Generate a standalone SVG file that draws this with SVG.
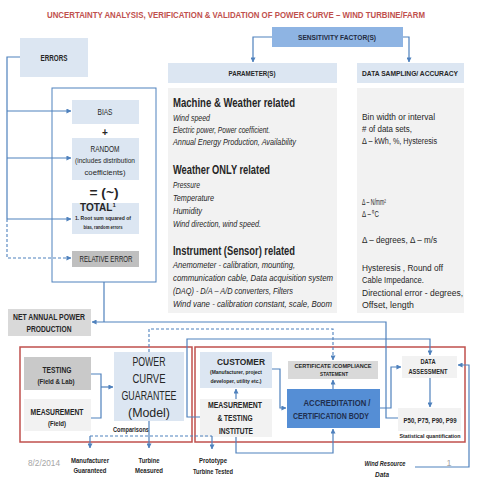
<svg xmlns="http://www.w3.org/2000/svg" width="480" height="480" viewBox="0 0 480 480">
<style>
text{font-family:"Liberation Sans",Arial,sans-serif;fill:#262626}
.b{font-weight:bold}
.i{font-style:italic}
.c{text-anchor:middle}
.ln{fill:none;stroke:#4f81bd;stroke-width:1.2}
.ds{fill:none;stroke:#4f81bd;stroke-width:1.1;stroke-dasharray:3,2}
.red{fill:none;stroke:#c0504d;stroke-width:1.5}
.lb{fill:#dce6f2}
.lg{fill:#f2f2f2}
.g{fill:#d9d9d9}
</style>
<defs>
<marker id="a" viewBox="0 0 6 6" refX="5.5" refY="3" markerWidth="5" markerHeight="5" markerUnits="userSpaceOnUse" orient="auto"><path d="M0,0L6,3L0,6z" fill="#4f81bd"/></marker>
</defs>
<rect width="480" height="480" fill="#fff"/>
<text x="236" y="18" class="b c" font-size="9" style="fill:#c0504d" textLength="378" lengthAdjust="spacingAndGlyphs">UNCERTAINTY ANALYSIS, VERIFICATION &amp; VALIDATION OF POWER CURVE – WIND TURBINE/FARM</text>

<g id="sensitivity"><rect x="272" y="27" width="131" height="20" fill="#8eb4e3"/><text x="337" y="40" class="b c" font-size="8" style="fill:#1f2a3d" textLength="78" lengthAdjust="spacingAndGlyphs">SENSITIVITY FACTOR(S)</text></g>
<g id="parameters"><rect x="168" y="63" width="169" height="20" class="lb"/><text x="252" y="76" class="b c" font-size="8" textLength="47" lengthAdjust="spacingAndGlyphs">PARAMETER(S)</text></g>
<g id="datasampling"><rect x="357" y="63" width="107" height="20" class="lb"/><text x="410" y="76" class="b c" font-size="8" textLength="96" lengthAdjust="spacingAndGlyphs">DATA SAMPLING/ ACCURACY</text></g>

<g id="param-details"><rect x="168" y="88" width="169" height="225" class="lg"/>
<text x="173" y="107" class="b" font-size="12" textLength="122" lengthAdjust="spacingAndGlyphs">Machine &amp; Weather related</text>
<g font-size="8.5" class="i">
<text x="173" y="121" textLength="37" lengthAdjust="spacingAndGlyphs">Wind speed</text>
<text x="173" y="133" textLength="97" lengthAdjust="spacingAndGlyphs">Electric power, Power coefficient.</text>
<text x="173" y="145" textLength="123" lengthAdjust="spacingAndGlyphs">Annual Energy Production, Availability</text>
</g>
<text x="173" y="174" class="b" font-size="12" textLength="97" lengthAdjust="spacingAndGlyphs">Weather ONLY related</text>
<g font-size="8.5" class="i">
<text x="173" y="188" textLength="27" lengthAdjust="spacingAndGlyphs">Pressure</text>
<text x="173" y="201" textLength="41" lengthAdjust="spacingAndGlyphs">Temperature</text>
<text x="173" y="214" textLength="29" lengthAdjust="spacingAndGlyphs">Humidity</text>
<text x="173" y="227" textLength="88" lengthAdjust="spacingAndGlyphs">Wind direction, wind speed.</text>
</g>
<text x="173" y="255" class="b" font-size="12" textLength="122" lengthAdjust="spacingAndGlyphs">Instrument (Sensor) related</text>
<g font-size="8.5" class="i">
<text x="173" y="268" textLength="122" lengthAdjust="spacingAndGlyphs">Anemometer -  calibration, mounting,</text>
<text x="173" y="281" textLength="160" lengthAdjust="spacingAndGlyphs">communication cable, Data acquisition system</text>
<text x="173" y="294" textLength="120" lengthAdjust="spacingAndGlyphs">(DAQ)  - D/A – A/D converters, Filters</text>
<text x="173" y="307" textLength="159" lengthAdjust="spacingAndGlyphs">Wind vane -  calibration constant, scale, Boom</text>
</g></g>
<g id="sampling-details"><rect x="357" y="88" width="107" height="225" class="lg"/>
<g font-size="8.5" style="fill:#404040">
<text x="362" y="120" textLength="73" lengthAdjust="spacingAndGlyphs">Bin width or interval</text>
<text x="362" y="132" textLength="50" lengthAdjust="spacingAndGlyphs"># of data sets,</text>
<text x="362" y="144" textLength="75" lengthAdjust="spacingAndGlyphs">Δ – kWh, %,  Hysteresis</text>
<text x="362" y="205" textLength="24" lengthAdjust="spacingAndGlyphs">Δ – N/mm²</text>
<text x="362" y="217" textLength="17" lengthAdjust="spacingAndGlyphs">Δ – ⁰C</text>
<text x="362" y="243" textLength="75" lengthAdjust="spacingAndGlyphs">Δ – degrees, Δ – m/s</text>
<text x="362" y="271" textLength="81" lengthAdjust="spacingAndGlyphs">Hysteresis , Round off</text>
<text x="362" y="283" textLength="62" lengthAdjust="spacingAndGlyphs">Cable Impedance.</text>
<text x="362" y="296" textLength="101" lengthAdjust="spacingAndGlyphs">Directional error - degrees,</text>
<text x="362" y="308" textLength="52" lengthAdjust="spacingAndGlyphs">Offset, length</text>
</g></g>

<g id="errors"><rect x="20" y="38" width="68" height="39" class="lb"/><text x="54" y="61" class="b c" font-size="9" textLength="27" lengthAdjust="spacingAndGlyphs">ERRORS</text></g>
<g id="error-group"><rect x="52" y="88" width="104" height="194" fill="none" stroke="#4f81bd" stroke-width="1"/>
<text x="105" y="136" class="b c" font-size="10">+</text>
<text x="104" y="197" class="b c" font-size="13" textLength="29" lengthAdjust="spacingAndGlyphs">= (~)</text></g>
<g id="bias"><rect x="72" y="100" width="67" height="24" class="lb"/><text x="105" y="115" class="c" font-size="9" textLength="15" lengthAdjust="spacingAndGlyphs">BIAS</text></g>
<g id="random"><rect x="72" y="138" width="67" height="42" class="lb"/>
<text x="105" y="152" class="c" font-size="9" textLength="29" lengthAdjust="spacingAndGlyphs">RANDOM</text>
<text x="105" y="163" class="c" font-size="7.5" textLength="60" lengthAdjust="spacingAndGlyphs">(includes distribution</text>
<text x="105" y="175" class="c" font-size="7.5" textLength="41" lengthAdjust="spacingAndGlyphs">coefficients)</text></g>
<g id="total"><rect x="72" y="203" width="67" height="31" class="lb"/>
<text x="80" y="211" class="b" font-size="10">TOTAL<tspan font-size="6" dy="-4">1</tspan></text>
<text x="103" y="220" class="b c" font-size="6" textLength="56" lengthAdjust="spacingAndGlyphs">1. Root sum squared of</text>
<text x="103" y="229" class="b c" font-size="6" textLength="39" lengthAdjust="spacingAndGlyphs">bias, random errors</text></g>
<g id="relative-error"><rect x="72" y="251" width="67" height="16" fill="#bfbfbf"/><text x="106" y="262" class="c" font-size="8.5" textLength="53" lengthAdjust="spacingAndGlyphs">RELATIVE ERROR</text></g>

<g id="net"><rect x="8" y="309" width="83" height="27" class="g"/>
<text x="49" y="320" class="b c" font-size="8.5" textLength="72" lengthAdjust="spacingAndGlyphs">NET ANNUAL POWER</text>
<text x="49" y="332" class="b c" font-size="8.5" textLength="45" lengthAdjust="spacingAndGlyphs">PRODUCTION</text></g>

<rect x="20" y="347" width="172" height="95" class="red"/>
<rect x="195" y="347" width="270" height="95" class="red"/>

<g id="testing"><rect x="24" y="357" width="67" height="33" fill="#c9c9c9"/>
<text x="57" y="373" class="b c" font-size="8.5" textLength="29" lengthAdjust="spacingAndGlyphs">TESTING</text>
<text x="56" y="384" class="b c" font-size="6.5" textLength="37" lengthAdjust="spacingAndGlyphs">(Field &amp; Lab)</text></g>
<g id="measurement"><rect x="24" y="399" width="67" height="32" class="lg"/>
<text x="57" y="415" class="b c" font-size="8.5" textLength="53" lengthAdjust="spacingAndGlyphs">MEASUREMENT</text>
<text x="57" y="426" class="b c" font-size="6.5" textLength="18" lengthAdjust="spacingAndGlyphs">(Field)</text></g>
<g id="power-curve"><rect x="114" y="352" width="70" height="69" class="lb"/>
<text x="149" y="366" class="c" font-size="13" textLength="33" lengthAdjust="spacingAndGlyphs">POWER</text>
<text x="149" y="383" class="c" font-size="13" textLength="33" lengthAdjust="spacingAndGlyphs">CURVE</text>
<text x="149" y="400" class="c" font-size="13" textLength="55" lengthAdjust="spacingAndGlyphs">GUARANTEE</text>
<text x="149" y="417" class="c" font-size="13" textLength="42" lengthAdjust="spacingAndGlyphs">(Model)</text></g>
<text x="131" y="432" class="b c" font-size="6.5" textLength="36" lengthAdjust="spacingAndGlyphs">Comparisons</text>

<g id="customer"><rect x="200" y="352" width="72" height="36" class="lb"/>
<text x="241" y="365" class="b c" font-size="9" textLength="48" lengthAdjust="spacingAndGlyphs">CUSTOMER</text>
<text x="236" y="374" class="b c" font-size="6" textLength="52" lengthAdjust="spacingAndGlyphs">(Manufacturer, project</text>
<text x="236" y="383" class="b c" font-size="6" textLength="51" lengthAdjust="spacingAndGlyphs">developer, utility  etc.)</text></g>
<g id="institute"><rect x="200" y="399" width="72" height="38" class="lg"/>
<text x="235" y="408" class="b c" font-size="9.5" textLength="54" lengthAdjust="spacingAndGlyphs">MEASUREMENT</text>
<text x="235" y="421" class="b c" font-size="9.5" textLength="35" lengthAdjust="spacingAndGlyphs">&amp; TESTING</text>
<text x="236" y="434" class="b c" font-size="9.5" textLength="34" lengthAdjust="spacingAndGlyphs">INSTITUTE</text></g>
<g id="certificate"><rect x="288" y="361" width="90" height="18" class="g"/>
<text x="333" y="368" class="b c" font-size="6" textLength="77" lengthAdjust="spacingAndGlyphs">CERTIFICATE /COMPLIANCE</text>
<text x="334" y="376" class="b c" font-size="6" textLength="28" lengthAdjust="spacingAndGlyphs">STATEMENT</text></g>
<g id="accreditation"><rect x="287" y="389" width="93" height="39" fill="#558ed5"/>
<text x="337" y="406" class="b c" font-size="9.5" style="fill:#1f2f4f" textLength="67" lengthAdjust="spacingAndGlyphs">ACCREDITATION /</text>
<text x="331" y="419" class="b c" font-size="9.5" style="fill:#1f2f4f" textLength="76" lengthAdjust="spacingAndGlyphs">CERTIFICATION BODY</text></g>
<g id="data-assessment"><rect x="402" y="356" width="55" height="22" class="lg"/>
<text x="428" y="364" class="b c" font-size="7" textLength="15" lengthAdjust="spacingAndGlyphs">DATA</text>
<text x="428" y="374" class="b c" font-size="7" textLength="39" lengthAdjust="spacingAndGlyphs">ASSESSMENT</text></g>
<g id="p-values"><rect x="398" y="408" width="63" height="23" class="lg"/>
<text x="430" y="423" class="b c" font-size="7" textLength="53" lengthAdjust="spacingAndGlyphs">P50, P75, P90, P99</text></g>
<text x="430" y="438" class="b c" font-size="6" textLength="61" lengthAdjust="spacingAndGlyphs">Statistical quantification</text>

<text x="90" y="463" class="b c" font-size="7" textLength="38" lengthAdjust="spacingAndGlyphs">Manufacturer</text>
<text x="90" y="473" class="b c" font-size="7" textLength="33" lengthAdjust="spacingAndGlyphs">Guaranteed</text>
<text x="149" y="463" class="b c" font-size="7" textLength="21" lengthAdjust="spacingAndGlyphs">Turbine</text>
<text x="149" y="473" class="b c" font-size="7" textLength="28" lengthAdjust="spacingAndGlyphs">Measured</text>
<text x="213" y="463" class="b c" font-size="7" textLength="28" lengthAdjust="spacingAndGlyphs">Prototype</text>
<text x="213" y="474" class="b c" font-size="7" textLength="40" lengthAdjust="spacingAndGlyphs">Turbine Tested</text>
<text x="385" y="466" class="b i c" font-size="7" textLength="41" lengthAdjust="spacingAndGlyphs">Wind Resource</text>
<text x="382" y="477" class="b i c" font-size="7" textLength="14" lengthAdjust="spacingAndGlyphs">Data</text>
<text x="44" y="466" class="c" font-size="9" style="fill:#a6a6a6" textLength="32" lengthAdjust="spacingAndGlyphs">8/2/2014</text>
<text x="449" y="466" class="c" font-size="9" style="fill:#a6a6a6">1</text>

<g id="connectors">
<path class="ln" d="M272,37H253V62" marker-end="url(#a)"/>
<path class="ln" d="M403,37H409V62" marker-end="url(#a)"/>
<path class="ln" d="M20,57H7V219"/>
<path class="ln" d="M7,111H71" marker-end="url(#a)"/>
<path class="ln" d="M7,158H71" marker-end="url(#a)"/>
<path class="ln" d="M7,219H71" marker-end="url(#a)"/>
<path class="ds" d="M7,219V258H71" marker-end="url(#a)"/>
<path class="ln" d="M104,282V322"/>
<path class="ln" d="M398,418H386V322H92" marker-end="url(#a)"/>
<path class="ln" d="M91,374H101V418H91"/>
<path class="ln" d="M101,387H113" marker-end="url(#a)"/>
<path class="ds" d="M90,436H212"/>
<path class="ln" d="M90,436V448" marker-end="url(#a)"/>
<path class="ln" d="M212,436V449" marker-end="url(#a)"/>
<path class="ds" d="M149,352V329H333V360" marker-end="url(#a)"/>
<path class="ln" d="M149,421V448" marker-end="url(#a)"/>
<path class="ln" d="M200,417H187V339H430V355" marker-end="url(#a)"/>
<path class="ln" d="M236,399V389" marker-end="url(#a)"/>
<path class="ln" d="M272,369H280V408H286" marker-end="url(#a)"/>
<path class="ln" d="M236,437V453H333V429" marker-end="url(#a)"/>
<path class="ln" d="M333,389V380" marker-end="url(#a)"/>
<path class="ln" d="M380,408H391V367H401" marker-end="url(#a)"/>
<path class="ln" d="M430,378V407" marker-end="url(#a)"/>
<path class="ln" d="M415,467H469V365H458" marker-end="url(#a)"/>
</g>
</svg>
